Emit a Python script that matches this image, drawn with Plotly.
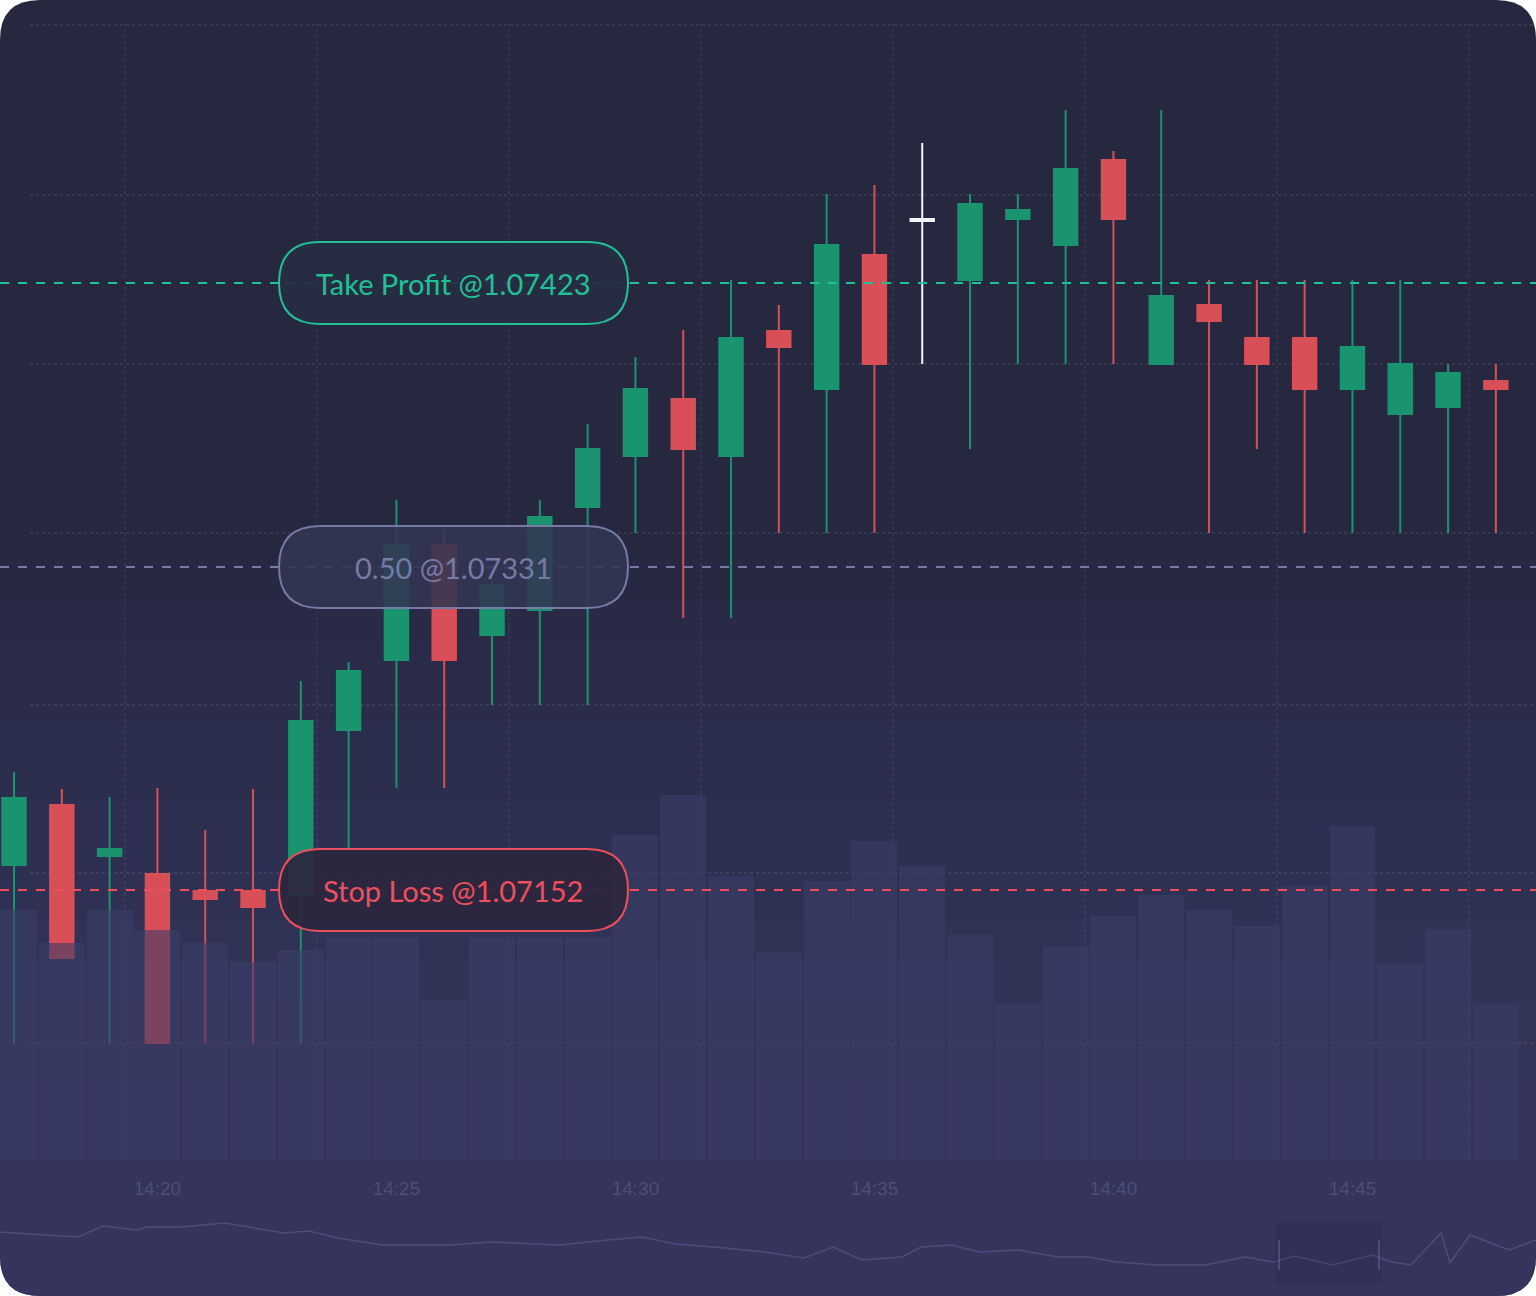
import plotly.graph_objects as go

W, H = 1536, 1296

# one candle per minute, 14:17 .. 14:48
minutes = list(range(32))
opens = [1.06835, 1.06895, 1.06844, 1.06826, 1.06809, 1.06809, 1.06805, 1.06970,
         1.07040, 1.07155, 1.07065, 1.07090, 1.07193, 1.07244, 1.07301, 1.07244,
         1.07369, 1.07311, 1.07445, 1.07479, 1.07420, 1.07481, 1.07455, 1.07540,
         1.07336, 1.07395, 1.07362, 1.07362, 1.07311, 1.07286, 1.07293, 1.07319]
highs = [1.06928, 1.06911, 1.06903, 1.06912, 1.06870, 1.06911, 1.07019, 1.07038,
         1.07200, 1.07170, 1.07130, 1.07200, 1.07276, 1.07343, 1.07370, 1.07420,
         1.07395, 1.07506, 1.07515, 1.07557, 1.07506, 1.07506, 1.07590, 1.07549,
         1.07590, 1.07420, 1.07420, 1.07420, 1.07420, 1.07420, 1.07336, 1.07336]
lows = [1.06657, 1.06742, 1.06657, 1.06657, 1.06657, 1.06657, 1.06657, 1.06850,
        1.06912, 1.06912, 1.06995, 1.06995, 1.06995, 1.07167, 1.07082, 1.07082,
        1.07167, 1.07167, 1.07167, 1.07336, 1.07251, 1.07336, 1.07336, 1.07336,
        1.07336, 1.07167, 1.07251, 1.07167, 1.07167, 1.07167, 1.07167, 1.07167]
closes = [1.06902, 1.06742, 1.06851, 1.06657, 1.06801, 1.06793, 1.06979, 1.07029,
          1.07155, 1.07040, 1.07115, 1.07183, 1.07251, 1.07311, 1.07251, 1.07362,
          1.07353, 1.07455, 1.07336, 1.07481, 1.07496, 1.07490, 1.07531, 1.07481,
          1.07404, 1.07379, 1.07336, 1.07311, 1.07353, 1.07336, 1.07327, 1.07311]
volumes = [250, 217, 250, 230, 217, 198, 210, 223, 223, 160, 223, 223,
           223, 325, 365, 284, 208, 279, 319, 294, 225, 156, 214, 244,
           265, 250, 234, 274, 334, 196, 231, 156]
highlight = 19  # hovered candle drawn white

tick_idx = [3, 8, 13, 18, 23, 28]
tick_text = ["14:20", "14:25", "14:30", "14:35", "14:40", "14:45"]

levels = [1.07417, 1.07133, 1.06810]
level_text = ["Take Profit @1.07423", "0.50 @1.07331", "Stop Loss @1.07152"]
level_colors = ["#1fc195", "#777aa6", "#ee4f5c"]
level_fill = ["rgba(38,44,66,0.92)", "rgba(50,53,82,0.88)", "rgba(44,38,62,0.92)"]

# navigator line (pixel space)
nav_x = [0, 78, 103, 137, 147, 181, 225, 284, 309, 338, 382, 451, 490, 559, 608,
         642, 676, 725, 764, 804, 833, 862, 902, 921, 951, 980, 1019, 1058, 1088,
         1117, 1156, 1205, 1245, 1274, 1294, 1333, 1372, 1392, 1411, 1441, 1450,
         1470, 1509, 1536]
nav_y = [1232, 1237, 1226, 1230, 1227, 1227, 1223, 1233, 1231, 1238, 1245, 1245,
         1242, 1245, 1240, 1237, 1244, 1248, 1252, 1258, 1247, 1260, 1257, 1247,
         1245, 1252, 1250, 1257, 1257, 1262, 1265, 1265, 1257, 1262, 1256, 1265,
         1255, 1262, 1265, 1233, 1263, 1235, 1250, 1240]

GREEN, RED = "#1a946e", "#d94f57"


def px_x(p):
    return p / W


def px_y(p):
    return 1 - p / H


def pill(x0, y0, x1, y1, r):
    # rounded rect in paper coords, r in pixels
    X0, X1, Y0, Y1 = px_x(x0), px_x(x1), px_y(y0), px_y(y1)
    rx, ry = r / W, r / H
    return (f"M {X0+rx},{Y0} L {X1-rx},{Y0} Q {X1},{Y0} {X1},{Y0-ry} "
            f"L {X1},{Y1+ry} Q {X1},{Y1} {X1-rx},{Y1} L {X0+rx},{Y1} "
            f"Q {X0},{Y1} {X0},{Y1+ry} L {X0},{Y0-ry} Q {X0},{Y0} {X0+rx},{Y0} Z")


def bottom_rounded(top, r=40):
    X0, X1, Yt, Yb = 0, 1, px_y(top), 0
    rx, ry = r / W, r / H
    return (f"M {X0},{Yt} L {X1},{Yt} L {X1},{Yb+ry} Q {X1},{Yb} {X1-rx},{Yb} "
            f"L {X0+rx},{Yb} Q {X0},{Yb} {X0},{Yb+ry} Z")


def mask(lst, keep):
    return [v if keep(i) else None for i, v in enumerate(lst)]


fig = go.Figure()

normal = lambda i: i != highlight
fig.add_trace(go.Candlestick(
    x=minutes, open=mask(opens, normal), high=mask(highs, normal),
    low=mask(lows, normal), close=mask(closes, normal),
    increasing=dict(line=dict(color=GREEN, width=2), fillcolor=GREEN),
    decreasing=dict(line=dict(color=RED, width=2), fillcolor=RED),
    whiskerwidth=0, showlegend=False, hoverinfo="skip",
))
hl = lambda i: i == highlight
fig.add_trace(go.Candlestick(
    x=minutes, open=mask(opens, hl), high=mask(highs, hl),
    low=mask(lows, hl), close=mask(closes, hl),
    increasing=dict(line=dict(color="#f2f2f7", width=2), fillcolor="#f2f2f7"),
    decreasing=dict(line=dict(color="#f2f2f7", width=2), fillcolor="#f2f2f7"),
    whiskerwidth=0, showlegend=False, hoverinfo="skip",
))
fig.add_trace(go.Bar(
    x=minutes, y=volumes, yaxis="y2", width=0.96,
    marker=dict(color="rgba(58,62,104,0.6)", line=dict(width=0)),
    showlegend=False, hoverinfo="skip",
))
fig.add_trace(go.Scatter(
    x=nav_x, y=nav_y, xaxis="x2", yaxis="y3", mode="lines",
    line=dict(color="rgba(110,114,165,0.4)", width=1.5),
    showlegend=False, hoverinfo="skip",
))

shapes = []
# background gradient bands
shapes.append(dict(type="path", xref="paper", yref="paper", path=pill(0, 0, W, H, 40),
                   fillcolor="#262840", line=dict(width=0), layer="below"))
for top in range(560, 1240, 40):
    shapes.append(dict(type="path", xref="paper", yref="paper", path=bottom_rounded(top),
                       fillcolor="rgba(72,75,125,0.06)", line=dict(width=0), layer="below"))
# dotted grid
for gy in [25, 195, 364, 533, 705, 873, 1043]:
    shapes.append(dict(type="line", xref="paper", yref="paper", x0=px_x(30), x1=1,
                       y0=px_y(gy), y1=px_y(gy),
                       line=dict(color="rgba(255,255,255,0.08)", width=2, dash="dot"),
                       layer="below"))
for gx in range(125, W, 192):
    shapes.append(dict(type="line", xref="paper", yref="paper", x0=px_x(gx), x1=px_x(gx),
                       y0=px_y(1160), y1=px_y(20),
                       line=dict(color="rgba(255,255,255,0.06)", width=2, dash="dot"),
                       layer="below"))
# navigator window
shapes.append(dict(type="rect", xref="paper", yref="paper", x0=px_x(1275), x1=px_x(1382),
                   y0=px_y(1285), y1=px_y(1222), fillcolor="rgba(40,42,70,0.2)",
                   line=dict(width=0)))
for vx in [1279, 1379]:
    shapes.append(dict(type="line", xref="paper", yref="paper", x0=px_x(vx), x1=px_x(vx),
                       y0=px_y(1240), y1=px_y(1270),
                       line=dict(color="rgba(120,124,175,0.5)", width=1.5)))

annotations = []
for lvl, txt, col, fill in zip(levels, level_text, level_colors, level_fill):
    shapes.append(dict(type="line", xref="paper", yref="y", x0=0, x1=1, y0=lvl, y1=lvl,
                       line=dict(color=col, width=2, dash="dash")))
    cy = (1.077 - lvl) / 1e-5
    shapes.append(dict(type="path", xref="paper", yref="paper",
                       path=pill(279, cy - 41, 628, cy + 41, 41),
                       fillcolor=fill, line=dict(color=col, width=2)))
    annotations.append(dict(x=px_x(453), y=lvl, xref="paper", yref="y", text=txt,
                            xanchor="center", yanchor="middle", showarrow=False,
                            font=dict(family="Lato", size=29, color=col)))

fig.update_layout(
    width=W, height=H, margin=dict(l=0, r=0, t=0, b=0),
    paper_bgcolor="white", plot_bgcolor="rgba(0,0,0,0)",
    shapes=shapes, annotations=annotations, bargap=0,
    xaxis=dict(range=[-0.293, 31.84], rangeslider=dict(visible=False), showgrid=False,
               zeroline=False, anchor="free", position=px_y(1175),
               tickvals=tick_idx, ticktext=tick_text, ticks="",
               tickfont=dict(family="Liberation Sans Narrow, Liberation Sans", size=19,
                             color="#4c4f76")),
    xaxis2=dict(range=[0, W], overlaying="x", visible=False),
    yaxis=dict(range=[1.077 - H * 1e-5, 1.077], visible=False),
    yaxis2=dict(range=[-136, 1160], overlaying="y", visible=False),
    yaxis3=dict(range=[H, 0], overlaying="y", visible=False, anchor="x2"),
)

fig.write_html("out.html", config={"displayModeBar": False},
               post_script="document.body.style.margin='0';")
